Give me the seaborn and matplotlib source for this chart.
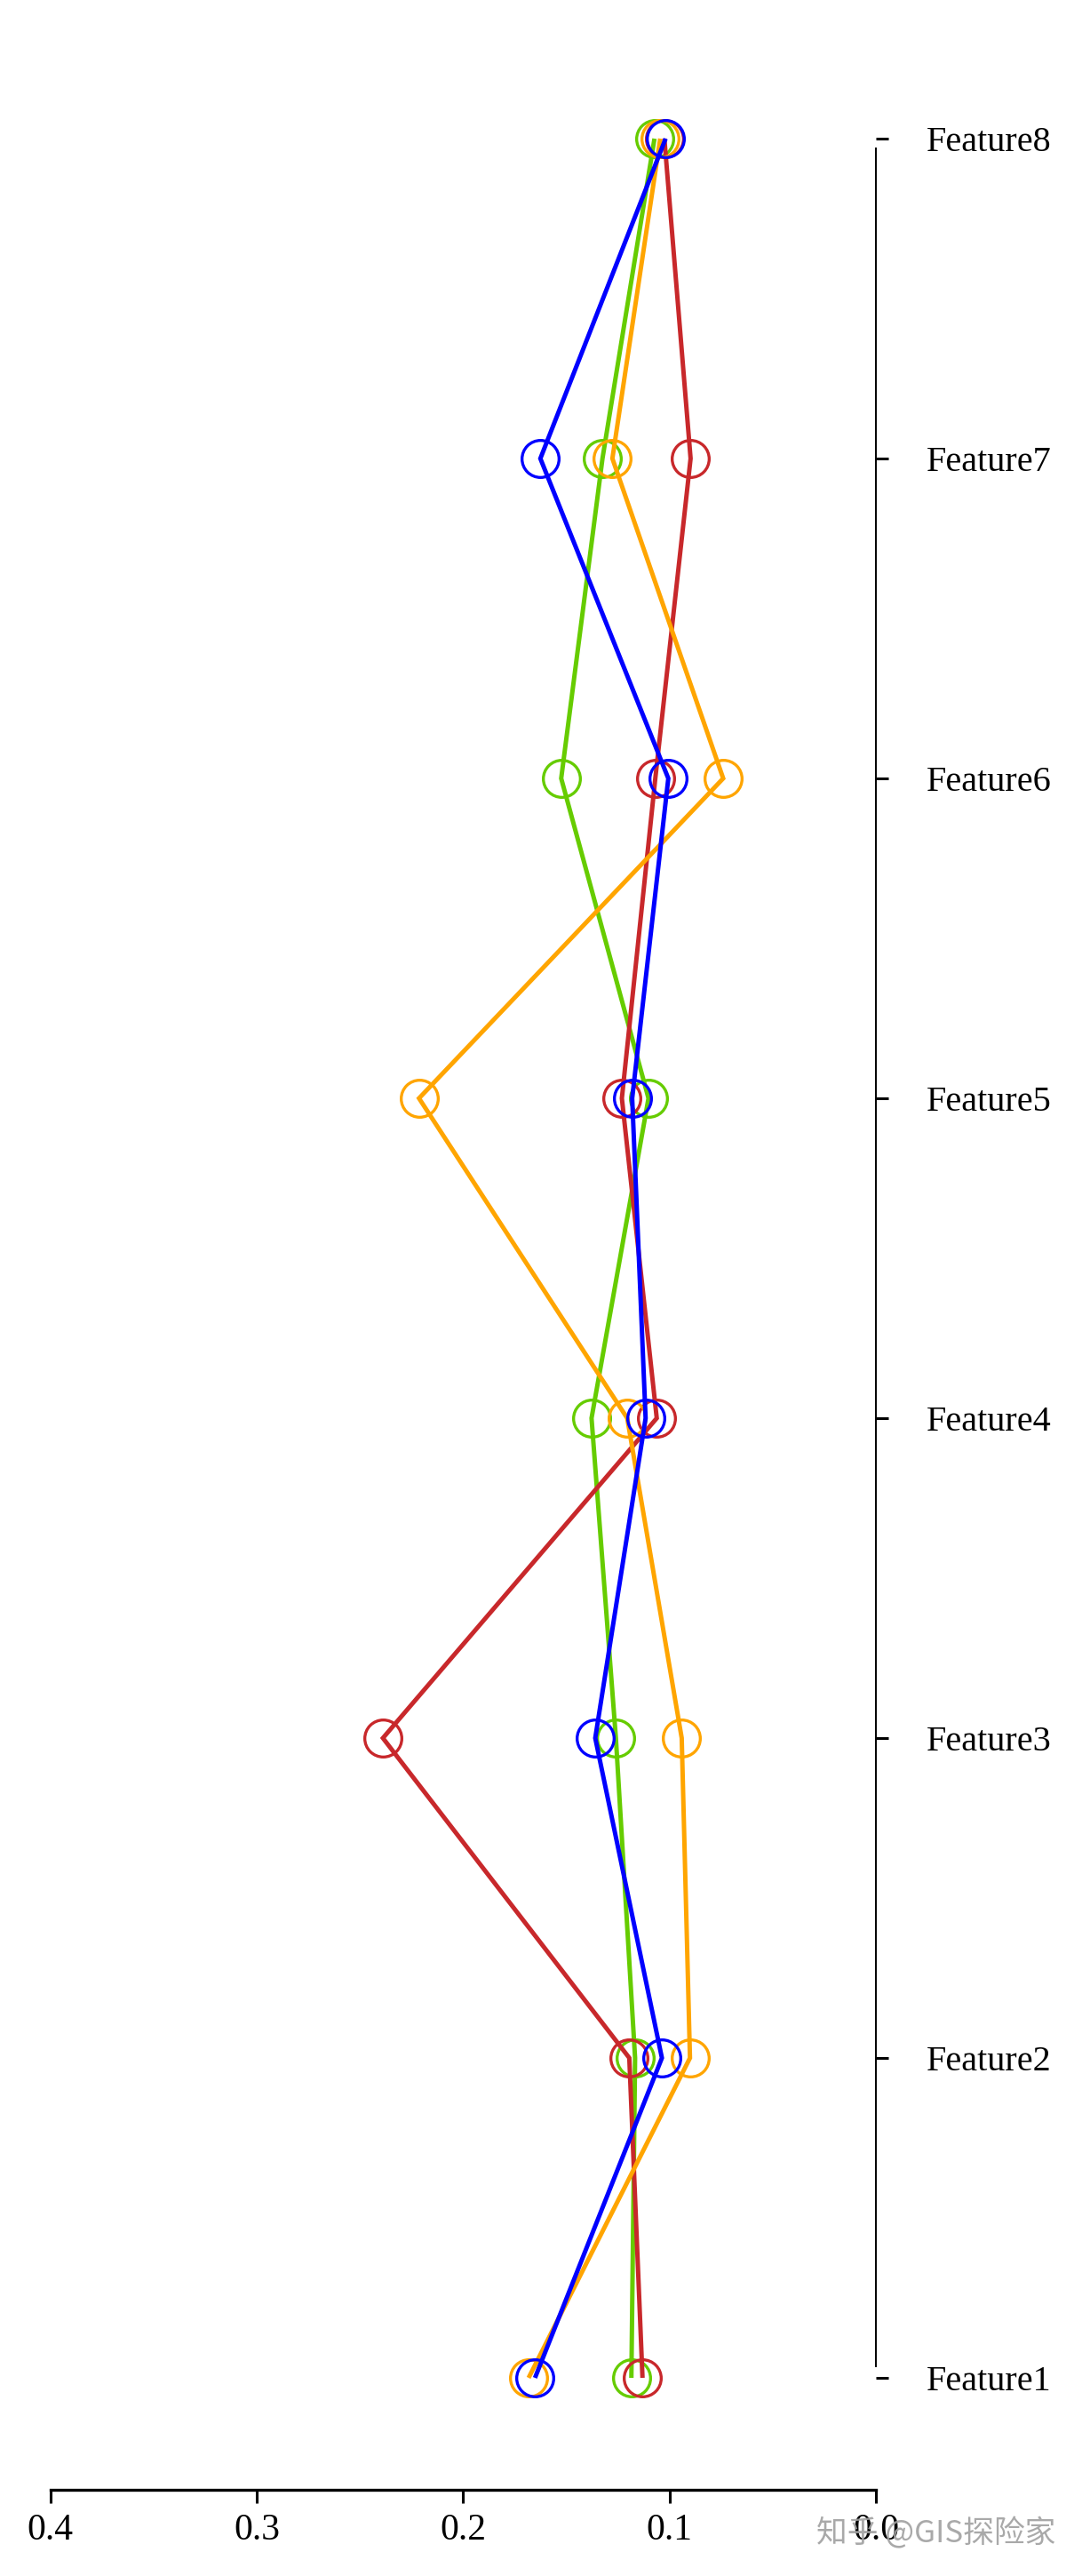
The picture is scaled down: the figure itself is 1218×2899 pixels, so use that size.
import numpy as np
import pandas as pd
import matplotlib
matplotlib.use("Agg")
import matplotlib.pyplot as plt
import seaborn as sns

# feature importance per model
features = ["Feature1", "Feature2", "Feature3", "Feature4",
            "Feature5", "Feature6", "Feature7", "Feature8"]
green_vals = [0.1185, 0.1167, 0.1260, 0.1378, 0.1102, 0.1525, 0.1325, 0.1073]
red_vals = [0.1131, 0.1195, 0.2389, 0.1062, 0.1231, 0.1069, 0.0898, 0.1025]
orange_vals = [0.1683, 0.0901, 0.0941, 0.1205, 0.2214, 0.0740, 0.1277, 0.1045]
blue_vals = [0.1652, 0.1037, 0.1360, 0.1116, 0.1181, 0.1006, 0.1626, 0.1019]
x_ticks = [0.4, 0.3, 0.2, 0.1, 0.0]

series = [
    (green_vals, "#66CC00"),
    (red_vals, "#C8282B"),
    (orange_vals, "#FFA500"),
    (blue_vals, "#0000FF"),
]

sns.set_theme(style="white")
plt.rcParams["font.family"] = ["Liberation Serif", "DejaVu Serif"]

W, H = 1218, 2899
fig = plt.figure(figsize=(W / 100, H / 100), dpi=100)
ax = fig.add_axes([56.8 / W, 1 - 2802 / H, (986 - 56.8) / W, (2802 - 120) / H])

pos = np.arange(len(features))
for vals, col in series:
    sns.lineplot(x=vals, y=pos, orient="y", ax=ax, color=col,
                 marker="o", markersize=30, markerfacecolor="none",
                 markeredgecolor=col, markeredgewidth=2.4)

# seaborn may reset widths, so set them on the drawn lines
for line in ax.get_lines():
    line.set_linewidth(3.6)
    line.set_markeredgewidth(2.4)
    line.set_solid_capstyle("butt")
    line.set_solid_joinstyle("miter")

ax.set_xlim(0.4, 0.0)
ax.set_ylim(-0.35, 7.1)
ax.set_xticks(x_ticks)
ax.set_xticklabels([f"{t:.1f}" for t in x_ticks])
ax.set_yticks(pos)
ax.set_yticklabels(features)
ax.yaxis.tick_right()

for s in ["top", "left"]:
    ax.spines[s].set_visible(False)
ax.spines["right"].set_bounds(0.035, 6.97)
ax.spines["right"].set_linewidth(1.4)
ax.spines["right"].set_color("black")
ax.spines["bottom"].set_linewidth(2.4)
ax.spines["bottom"].set_color("black")

ax.tick_params(axis="x", direction="out", length=11, width=2.2,
               labelsize=30, pad=8, colors="black", bottom=True)
ax.tick_params(axis="y", direction="out", length=10, width=2.2,
               labelsize=29, pad=31, colors="black", right=True, left=False)
ax.set_xlabel("")
ax.set_ylabel("")

# zhihu watermark
fig.text(1188 / W, 1 - 2851 / H, "知乎 @GIS探险家", ha="right", va="center",
         fontsize=25, color="#A0A0A0", alpha=0.9,
         family=["Noto Sans CJK SC", "DejaVu Sans"])

fig.savefig("out.png", dpi=100, facecolor="white")
